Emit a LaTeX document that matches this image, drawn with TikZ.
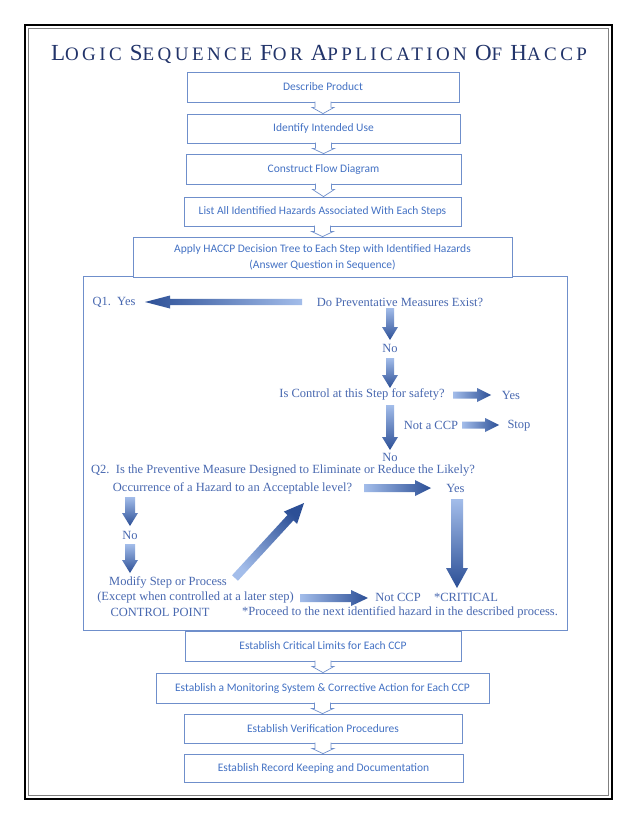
\documentclass[tikz,border=0pt]{standalone}
\usepackage{fontspec}
\setmainfont{Liberation Serif}
\newfontfamily\boxfont{Carlito}
\newfontfamily\titlefont[LetterSpace=18]{Liberation Serif}
\usetikzlibrary{calc}
\definecolor{titlec}{HTML}{22346A}
\definecolor{boxtext}{HTML}{4472C4}
\definecolor{boxline}{HTML}{6F8FCB}
\definecolor{dectext}{HTML}{4868B0}
\definecolor{arlight}{HTML}{A3BDEA}
\definecolor{ardark}{HTML}{2C4F96}
\newcommand\tcap[2]{{\fontsize{23}{23}\selectfont #1}{\fontsize{19}{19}\selectfont #2}}
\newcommand\hollowarr[2]{%
  \coordinate (hT) at (#1.south |- #2.north);
  \filldraw[hollowstyle] ($(#1.south)+(-8,-0.8)$) -- ($(#1.south)+(-8,5)$) -- ($(#1.south)+(-11,5)$) -- (hT) -- ($(#1.south)+(11,5)$) -- ($(#1.south)+(8,5)$) -- ($(#1.south)+(8,-0.8)$);}
\newcommand\barrow[5]{% tail, tip, shaft half width, head half width, head length
  \coordinate (barH) at ($(#2)!#5!(#1)$);
  \pgfpointdiff{\pgfpointanchor{#1}{center}}{\pgfpointanchor{#2}{center}}%
  \pgfgetlastxy{\bdx}{\bdy}%
  \pgfmathsetmacro\bsa{atan2(\bdy,\bdx)+90}%
  \shade[top color=arlight, bottom color=ardark, shading angle=\bsa]
    ($(#1)!#3!90:(#2)$) -- ($(barH)!#3!90:(#2)$) -- ($(barH)!#4!90:(#2)$) -- (#2)
    -- ($(barH)!#4!-90:(#2)$) -- ($(barH)!#3!-90:(#2)$) -- ($(#1)!#3!-90:(#2)$) -- cycle;}
\begin{document}
\begin{tikzpicture}[x=1pt,y=-1pt,
  stepbox/.style={draw=boxline, line width=0.8pt, fill=white, text=boxtext, font=\boxfont\fontsize{11.5}{16}\selectfont, align=center, inner sep=0pt},
  hollowstyle/.style={draw=boxline, line width=0.7pt, fill=white},
  dec/.style={text=dectext, font=\fontsize{12.5}{14}\selectfont, inner sep=0pt, anchor=center}]
\useasboundingbox (0,0) rectangle (638,826);
\fill[white] (0,0) rectangle (638,826);
% outer frame
\draw[line width=2.6pt, black] (25,25) rectangle (612,799);
\draw[line width=0.8pt, gray] (28.5,28.5) rectangle (608.5,795.5);
% title
\node[text=titlec, font=\titlefont\fontsize{19}{19}\selectfont, inner sep=0pt] (title) at (319,54.5)
  {\tcap{L}{OGIC} \tcap{S}{EQUENCE} \tcap{F}{OR} \tcap{A}{PPLICATION} \tcap{O}{F} \tcap{H}{ACCP}};
% decision box
\node[draw=boxline, line width=0.8pt, minimum width=484pt, minimum height=354pt, inner sep=0pt] (dbox) at (325,453) {};
% step boxes
\node[stepbox, minimum width=272pt, minimum height=30pt] (b1) at (323,87) {Describe Product};
\node[stepbox, minimum width=273pt, minimum height=29pt] (b2) at (323.5,128.5) {Identify Intended Use};
\node[stepbox, minimum width=275pt, minimum height=30pt] (b3) at (323.5,169) {Construct Flow Diagram};
\node[stepbox, minimum width=277pt, minimum height=29pt] (b4) at (322.5,211.5) {List All Identified Hazards Associated With Each Steps};
\node[stepbox, minimum width=379pt, minimum height=40pt] (b5) at (322.5,257) {Apply HACCP Decision Tree to Each Step with Identified Hazards\\(Answer Question in Sequence)};
\node[stepbox, minimum width=276pt, minimum height=30pt] (b6) at (323,646) {Establish Critical Limits for Each CCP};
\node[stepbox, minimum width=333pt, minimum height=30pt] (b7) at (322.5,688) {Establish a Monitoring System \& Corrective Action for Each CCP};
\node[stepbox, minimum width=278pt, minimum height=29pt] (b8) at (323,728.5) {Establish Verification Procedures};
\node[stepbox, minimum width=279pt, minimum height=28pt] (b9) at (323.5,768) {Establish Record Keeping and Documentation};
\hollowarr{b1}{b2}
\hollowarr{b2}{b3}
\hollowarr{b3}{b4}
\hollowarr{b4}{b5}
\hollowarr{b6}{b7}
\hollowarr{b7}{b8}
\hollowarr{b8}{b9}
% decision texts
\node[dec] (q1yes) at (114,302) {Q1.\ \ Yes};
\node[dec] (dpm) at (400,302) {Do Preventative Measures Exist?};
\node[dec] (no1) at (390,348) {No};
\node[dec] (ics) at (362,394.5) {Is Control at this Step for safety?};
\node[dec] (yes1) at (511,395) {Yes};
\node[dec] (nccp) at (431,425) {Not a CCP};
\node[dec] (stop) at (519,426) {Stop};
\node[dec] (no2) at (390,457) {No};
\node[dec, anchor=west] (q2a) at (91,471) {Q2.\ \ Is the Preventive Measure Designed to Eliminate or Reduce the Likely?};
\node[dec] (q2b) at (232.5,488) {Occurrence of a Hazard to an Acceptable level?};
\node[dec] (yes2) at (455.5,488) {Yes};
\node[dec] (no3) at (130,535) {No};
\node[dec] (msp) at (168,582) {Modify Step or Process};
\node[dec] (exc) at (195.5,597) {(Except when controlled at a later step)};
\node[dec] (notccp) at (398,597) {Not CCP};
\node[dec] (crit) at (466,597) {*CRITICAL};
\node[dec] (cp) at (160,612) {CONTROL POINT};
\node[dec] (proc) at (400,612) {*Proceed to the next identified hazard in the described process.};
% block arrow end points
\coordinate (a1s) at (302,302);  \coordinate (a1e) at (145,302);
\coordinate (a2s) at (390,308);  \coordinate (a2e) at (390,340);
\coordinate (a3s) at (390,358);  \coordinate (a3e) at (390,388);
\coordinate (a4s) at (453,395);  \coordinate (a4e) at (491,395);
\coordinate (a5s) at (390,405);  \coordinate (a5e) at (390,450);
\coordinate (a6s) at (462,425);  \coordinate (a6e) at (499,425);
\coordinate (a7s) at (364,488);  \coordinate (a7e) at (431,488);
\coordinate (a8s) at (130,497);  \coordinate (a8e) at (130,526);
\coordinate (a9s) at (130,544);  \coordinate (a9e) at (130,573);
\coordinate (a10s) at (235,578); \coordinate (a10e) at (304,503);
\coordinate (a11s) at (300,598); \coordinate (a11e) at (368,598);
\coordinate (a12s) at (457,499); \coordinate (a12e) at (457,588);
\barrow{a1s}{a1e}{3.2pt}{6.5pt}{25pt}
\barrow{a2s}{a2e}{4pt}{8pt}{13pt}
\barrow{a3s}{a3e}{4pt}{8pt}{13pt}
\barrow{a4s}{a4e}{3.5pt}{7pt}{14pt}
\barrow{a5s}{a5e}{4pt}{8pt}{13pt}
\barrow{a6s}{a6e}{3.5pt}{7pt}{14pt}
\barrow{a7s}{a7e}{4pt}{8pt}{16pt}
\barrow{a8s}{a8e}{5pt}{8pt}{13pt}
\barrow{a9s}{a9e}{5pt}{8pt}{13pt}
\barrow{a10s}{a10e}{4pt}{9pt}{20pt}
\barrow{a11s}{a11e}{4pt}{8pt}{17pt}
\barrow{a12s}{a12e}{6pt}{11pt}{20pt}
\end{tikzpicture}
\end{document}
